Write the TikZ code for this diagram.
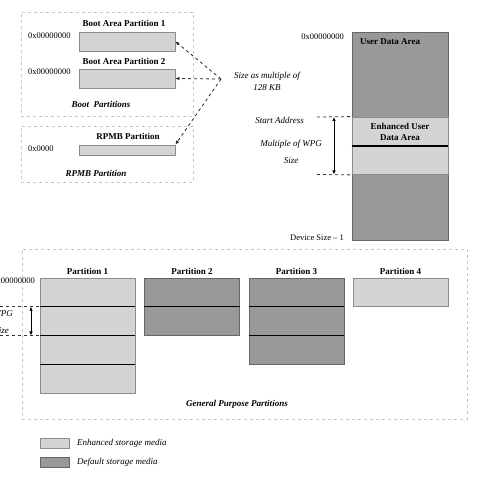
\documentclass[tikz,border=0pt]{standalone}
\usepackage{fontspec}
\setmainfont{Liberation Serif}
\usetikzlibrary{arrows.meta,positioning}

\begin{document}
\begin{tikzpicture}[x=1pt, y=-1pt,
  grpbox/.style={rectangle, draw=gray!45, dashed, line width=0.5pt, inner sep=0pt},
  enhbox/.style={rectangle, draw=black!45, fill=black!17, inner sep=0pt, line width=0.8pt},
  defbox/.style={rectangle, draw=black!60, fill=black!40, inner sep=0pt, line width=0.8pt},
  title/.style={font=\fontsize{9}{10}\selectfont\bfseries, inner sep=0pt},
  addr/.style={font=\fontsize{8.5}{10}\selectfont, inner sep=0pt},
  note/.style={font=\fontsize{9}{12}\selectfont\itshape, align=center, inner sep=0pt},
  caption/.style={font=\fontsize{9}{10}\selectfont\bfseries\itshape, inner sep=0pt},
  divider/.style={line width=1.1pt, draw=black},
  marker/.style={dashed, draw=black!80, line width=0.8pt},
  sizearr/.style={-{Latex[length=4pt,width=3.5pt]}, dashed, draw=black!85, line width=0.8pt},
  span/.style={{Latex[length=4pt,width=3.5pt]}-{Latex[length=4pt,width=3.5pt]}, line width=0.7pt}
]
\useasboundingbox (0,0) rectangle (480,478);

% boot and RPMB partitions
\node[grpbox, minimum width=172, minimum height=104] (bootgrp) at (107,64) {};
\node[grpbox, minimum width=172, minimum height=56] (rpmbgrp) at (107,154) {};

\node[title] (bootonelbl) at (124,23) {Boot Area Partition 1};
\node[enhbox, minimum width=96, minimum height=19] (bootone) at (127,41.5) {};
\node[addr, anchor=west] (bootoneaddr) at (28,36) {0x00000000};

\node[title] (boottwolbl) at (124,61) {Boot Area Partition 2};
\node[enhbox, minimum width=96, minimum height=19] (boottwo) at (127,78.5) {};
\node[addr, anchor=west] (boottwoaddr) at (28,72) {0x00000000};

\node[caption] (bootcap) at (101,104) {Boot\ \ Partitions};

\node[title] (rpmblbl) at (128,136) {RPMB Partition};
\node[enhbox, minimum width=96, minimum height=10] (rpmbbox) at (127,150) {};
\node[addr, anchor=west] (rpmbaddr) at (28,149) {0x0000};
\node[caption] (rpmbcap) at (96,173) {RPMB Partition};

\node[note] (sizenote) at (267,81) {Size as multiple of\\128 KB};
\coordinate (sizept) at (221,79);
\draw[sizearr] (sizept) -- (bootone.east);
\draw[sizearr] (sizept) -- (boottwo.east);
\draw[sizearr] (sizept) -- (rpmbbox.north east);

% user data area
\node[defbox, minimum width=96, minimum height=208] (userdata) at (400,136) {};
\node[enhbox, minimum width=96, minimum height=57.5] (enhzone) at (400,145.75) {};
\draw[divider] (enhzone.west |- 0,146) -- (enhzone.east |- 0,146);
\node[title, anchor=west] (userlbl) at (360,42) {User Data Area};
\node[title, align=center, font=\fontsize{9}{11}\selectfont\bfseries] (enhlbl) at (400,131.5) {Enhanced User\\Data Area};
\node[addr, anchor=east] (useraddr) at (344,37) {0x00000000};
\node[addr, anchor=east] (devsize) at (344,238) {Device Size -- 1};

\node[note, anchor=east] (startlbl) at (304,120) {Start Address};
\node[note] (wpglbl) at (291,144) {Multiple of WPG};
\node[note] (wpgsize) at (291,161) {Size};
\coordinate (startmark) at (317,117);
\coordinate (endmark) at (317,174.5);
\coordinate (spantop) at (334,117);
\coordinate (spanbot) at (334,174.5);
\draw[marker] (startmark) -- (enhzone.north west);
\draw[marker] (endmark) -- (enhzone.south west);
\draw[span] (spantop) -- (spanbot);

% general purpose partitions
\node[grpbox, minimum width=445, minimum height=170] (gpgrp) at (244.5,334) {};

\node[title] (partonelbl) at (87.5,271) {Partition 1};
\node[enhbox, minimum width=95, minimum height=115] (partone) at (87.5,335.5) {};
\foreach \y in {306.75,335.5,364.25}
  \draw[divider] (40,\y) -- (135,\y);

\node[title] (parttwolbl) at (192,271) {Partition 2};
\node[defbox, minimum width=95, minimum height=57.5] (parttwo) at (192,306.75) {};
\draw[divider] (parttwo.west) -- (parttwo.east);

\node[title] (partthreelbl) at (296.5,271) {Partition 3};
\node[defbox, minimum width=95, minimum height=86.25] (partthree) at (296.5,321.125) {};
\foreach \y in {306.75,335.5}
  \draw[divider] (249,\y) -- (344,\y);

\node[title] (partfourlbl) at (400.5,271) {Partition 4};
\node[enhbox, minimum width=95, minimum height=28.75] (partfour) at (400.5,292.375) {};

% these labels run off the left edge, as in the source
\node[addr, anchor=east] (gpaddr) at (35,281) {0x00000000};
\node[note, anchor=east] (gpwpg) at (13,314) {Multiple of WPG};
\node[note, anchor=east] (gpsize) at (9,331) {Size};
\coordinate (gpmarktop) at (0,306.75);
\coordinate (gpmarkbot) at (0,335.5);
\coordinate (gpspantop) at (31,306.75);
\coordinate (gpspanbot) at (31,335.5);
\draw[marker] (gpmarktop) -- (partone.west |- gpmarktop);
\draw[marker] (gpmarkbot) -- (partone.west |- gpmarkbot);
\draw[span] (gpspantop) -- (gpspanbot);

\node[caption] (gpcap) at (237,404) {General Purpose Partitions};

% legend
\node[enhbox, minimum width=29, minimum height=10] (enhkey) at (54.5,443) {};
\node[note, anchor=west] (enhtext) at (77,443) {Enhanced storage media};
\node[defbox, minimum width=29, minimum height=10] (defkey) at (54.5,462.5) {};
\node[note, anchor=west] (deftext) at (77,462.5) {Default storage media};

\end{tikzpicture}
\end{document}
